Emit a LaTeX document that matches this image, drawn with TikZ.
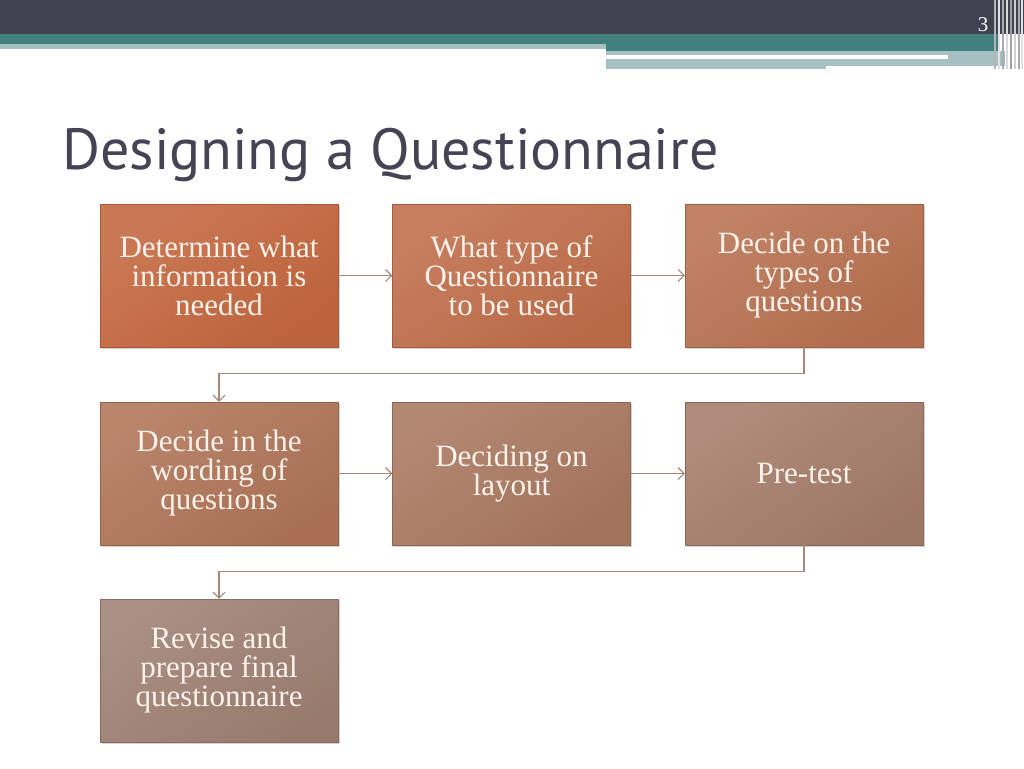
\documentclass[tikz,border=0pt]{standalone}
\usepackage{fontspec}
\usepackage{tikz}
\usetikzlibrary{arrows.meta,shadows}
\setmainfont{Liberation Serif}
\newfontfamily\titlefont{PT Sans}

\definecolor{barDark}{HTML}{414152}
\definecolor{barTeal}{HTML}{41807F}
\definecolor{barLight}{HTML}{A7C0C1}
\definecolor{titleGrey}{HTML}{444455}
\definecolor{boxText}{HTML}{FDF3EC}
\definecolor{flowLine}{HTML}{A58878}
\definecolor{cA}{HTML}{C4673E}
\definecolor{cB}{HTML}{C06E4A}
\definecolor{cC}{HTML}{B87150}
\definecolor{cD}{HTML}{AF7457}
\definecolor{cE}{HTML}{A9785F}
\definecolor{cF}{HTML}{A47C69}
\definecolor{cG}{HTML}{9E8072}

\begin{document}
\begin{tikzpicture}[x=1pt,y=-1pt,
	stepbox/.style={shape=rectangle, minimum width=238pt, minimum height=143pt,
		align=center, inner sep=0pt,
		top color=#1!88!white, bottom color=#1!96!black, shading angle=35,
		draw=#1!85!black, line width=0.4pt, text=boxText,
		font=\fontsize{31}{29}\selectfont,
		drop shadow={shadow xshift=1.5pt, shadow yshift=-2pt, opacity=0.35}},
	flow/.style={draw=flowLine, line width=1.1pt,
		-{Straight Barb[length=6pt,width=12pt,line width=1.1pt]}}]
	\useasboundingbox (0,0) rectangle (1024,768);
	% header bars
	\fill[barDark] (0,0) rectangle (1024,34);
	\fill[barTeal] (0,34) rectangle (606,44);
	\fill[barLight] (0,44) rectangle (606,49);
	\fill[barTeal] (606,34) rectangle (1000,51);
	\fill[barLight] (606,51) rectangle (1005,66);
	\fill[barLight] (606,66) rectangle (826,69);
	\fill[white] (606,55) rectangle (948,58.5);
	\foreach \xx/\gg in {994/60,998/85,1002/55,1006/80,1010/50,1014/75,1018/55,1021/85}
		\fill[white!\gg!barDark] (\xx,0) rectangle ++(2.2,69);
	\node[text=white, font=\fontsize{21}{21}\selectfont] (num) at (983,25) {3};
	% title
	\node[anchor=base west, inner sep=0pt, text=titleGrey] (title) at (62,169)
		{\titlefont\fontsize{58}{58}\selectfont Designing a Questionnaire};
	% steps
	\node[stepbox=cA] (1) at (219,275.5) {Determine what\\information is\\needed};
	\node[stepbox=cB] (2) at (511.5,275.5) {What type of\\Questionnaire\\to be used};
	\node[stepbox=cC] (3) at (804,275.5) {Decide on the\\types of\\questions};
	\node[stepbox=cD] (4) at (219,473.5) {Decide in the\\wording of\\questions};
	\node[stepbox=cE] (5) at (511.5,473.5) {Deciding on\\layout};
	\node[stepbox=cF] (6) at (804,473.5) {Pre-test};
	\node[stepbox=cG] (7) at (219,670.5) {Revise and\\prepare final\\questionnaire};
	
	\path [flow]
	(1) edge (2)
	(2) edge (3)
	(4) edge (5)
	(5) edge (6);
	\draw[flow] (3.south) -- ++(0,26) -| (4.north);
	\draw[flow] (6.south) -- ++(0,26) -| (7.north);
\end{tikzpicture}
\end{document}
